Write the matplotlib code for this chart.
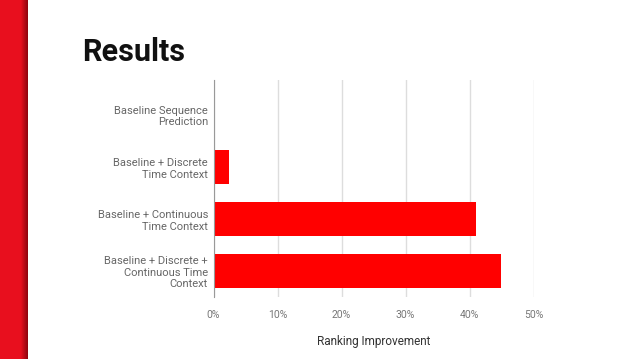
import matplotlib.pyplot as plt
import numpy as np
from matplotlib.ticker import FuncFormatter

plt.rcParams['font.family'] = ['Roboto', 'DejaVu Sans']

categories = ["Baseline Sequence\nPrediction",
              "Baseline + Discrete\nTime Context",
              "Baseline + Continuous\nTime Context",
              "Baseline + Discrete +\nContinuous Time\nContext"]
improvement = [0.0, 0.024, 0.41, 0.449]
xticks = [0, 0.1, 0.2, 0.3, 0.4, 0.5]

fig = plt.figure(figsize=(6.38, 3.59), dpi=100)

# red band on the left edge
band = fig.add_axes([0, 0, 28 / 638, 1])
grad = np.linspace(0, 1, 50)
shade = np.clip((grad - 0.75) / 0.25, 0, 1)
rgb = np.zeros((1, 50, 3))
rgb[0, :, 0] = 0.91 - 0.35 * shade
rgb[0, :, 1] = 0.06 - 0.04 * shade
rgb[0, :, 2] = 0.12 - 0.06 * shade
band.imshow(rgb, aspect='auto', extent=[0, 1, 0, 1])
band.set_axis_off()

fig.text(82 / 638, 1 - 52 / 359, "Results", fontsize=22, fontweight='bold',
         color='#111111', va='center', ha='left')

ax = fig.add_axes([213.5 / 638, 62 / 359, 320 / 638, 217 / 359])
y = np.arange(len(categories))
ax.barh(y, improvement, height=0.65, color='#ff0000', zorder=3)
ax.set_ylim(3.5, -0.67)
ax.set_xlim(0, 0.5)
ax.set_xticks(xticks)
ax.xaxis.set_major_formatter(FuncFormatter(lambda v, p: f"{v * 100:.0f}%"))
ax.set_yticks(y)
ax.set_yticklabels(categories, fontsize=8, color='#666666', linespacing=1.2)
ax.tick_params(axis='y', length=0, pad=4)
ax.tick_params(axis='x', length=0, pad=9, labelsize=7.5, labelcolor='#777777')
ax.grid(axis='x', color='#dddddd', linewidth=1, zorder=0)
for s in ['top', 'right', 'bottom']:
    ax.spines[s].set_visible(False)
ax.spines['left'].set_color('#999999')
ax.spines['left'].set_zorder(4)
ax.set_xlabel("Ranking Improvement", fontsize=8.5, color='#333333', labelpad=11)

fig.savefig("out.png", dpi=100)
